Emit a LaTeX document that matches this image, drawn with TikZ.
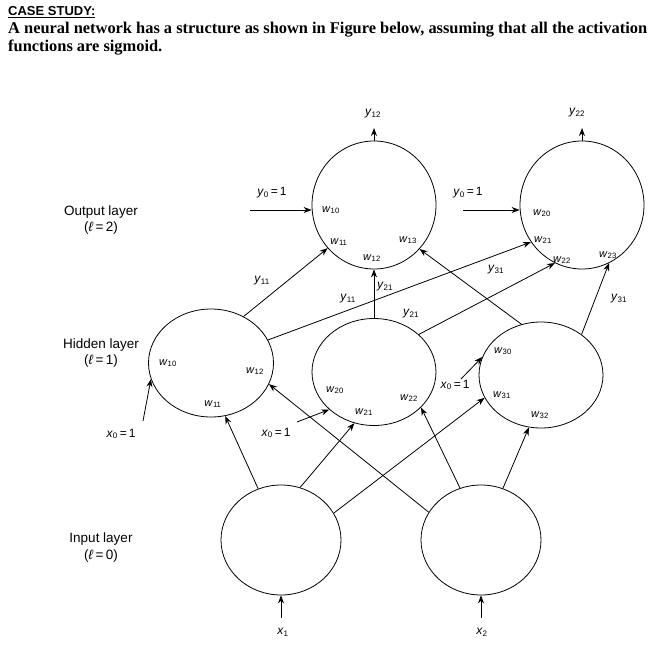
\documentclass[tikz,border=0pt]{standalone}
\usepackage{fontspec}
\setmainfont{Liberation Serif}
\newfontfamily\sansf{Liberation Sans}
\usetikzlibrary{shapes.geometric,arrows.meta}
\newcommand{\vv}[2]{\textit{#1}\textsubscript{#2}}
\begin{document}
\begin{tikzpicture}[x=1pt,y=-1pt,
  neuron/.style={ellipse,draw,line width=0.8pt,inner sep=0pt},
  conn/.style={line width=0.8pt,-{Stealth[length=8pt,width=6pt]}},
  lab/.style={font=\sansf\fontsize{12}{13}\selectfont,inner sep=0pt},
  wl/.style={font=\sansf\fontsize{11}{12}\selectfont,inner sep=0pt},
  layer/.style={font=\sansf\fontsize{13.5}{15}\selectfont,inner sep=0pt}]
\useasboundingbox (0,0) rectangle (665,659);
\node[anchor=west,inner sep=0pt,font=\sansf\bfseries\fontsize{13}{15}\selectfont] (title) at (8,12) {\underline{CASE STUDY:}};
\node[anchor=west,inner sep=0pt,font=\bfseries\fontsize{16.4}{18}\selectfont] (l1) at (8,30) {A neural network has a structure as shown in Figure below, assuming that all the activation};
\node[anchor=west,inner sep=0pt,font=\bfseries\fontsize{16.4}{18}\selectfont] (l2) at (8,48) {functions are sigmoid.};

\node[neuron,minimum width=124pt,minimum height=128pt] (o1) at (374,205) {};
\node[neuron,minimum width=124pt,minimum height=128pt] (o2) at (582,205) {};
\node[neuron,minimum width=125pt,minimum height=108pt] (h1) at (211,363) {};
\node[neuron,minimum width=124pt,minimum height=107pt] (h2) at (374,372) {};
\node[neuron,minimum width=124pt,minimum height=106pt] (h3) at (541,375) {};
\node[neuron,minimum width=120pt,minimum height=110pt] (i1) at (281,540) {};
\node[neuron,minimum width=120pt,minimum height=110pt] (i2) at (481,540) {};

% outputs
\node[lab] (y12) at (373,114) {\vv{y}{12}};
\node[lab] (y22) at (577,113) {\vv{y}{22}};
\coordinate (o1t) at (374,128);
\coordinate (o2t) at (582,128);
\draw[conn] (o1.90) -- (o1t);
\draw[conn] (o2.90) -- (o2t);
% bias y0
\coordinate (b1) at (250,210);
\coordinate (b2) at (463,210);
\draw[conn] (b1) -- (b1 -| o1.west);
\draw[conn] (b2) -- (b2 -| o2.west);
\node[lab] (y0a) at (272,193) {\vv{y}{0}\,=\,1};
\node[lab] (y0b) at (468,193) {\vv{y}{0}\,=\,1};

% hidden -> output
\draw[conn] (h1.55) -- (o1.-137);
\draw[conn] (h1.22) -- (o2.-144);
\draw[conn] (h2.90) -- (o1.-90);
\draw[conn] (h2.40) -- (o2.-115);
\draw[conn] (h3.111) -- (o1.-44);
\draw[conn] (h3.45) -- (o2.-65);
\node[lab] (ya) at (262,281) {\vv{y}{11}};
\node[lab] (yb) at (348,299) {\vv{y}{11}};
\node[lab] (yc) at (385,287) {\vv{y}{21}};
\node[lab] (yd) at (411,314) {\vv{y}{21}};
\node[lab] (ye) at (496,270) {\vv{y}{31}};
\node[lab] (yf) at (619,299) {\vv{y}{31}};

% input -> hidden
\draw[conn] (i1.114) -- (h1.-75);
\draw[conn] (i1.70) -- (h2.-111);
\draw[conn] (i1.27) -- (h3.-158);
\draw[conn] (i2.152) -- (h1.-20);
\draw[conn] (i2.112) -- (h2.-37);
\draw[conn] (i2.67) -- (h3.-103);

% x0 biases
\coordinate (c1) at (143,421);
\coordinate (c2) at (297,422);
\coordinate (c3) at (461,379);
\draw[conn] (c1) -- (h1.-165);
\draw[conn] (c2) -- (h2.-140);
\draw[conn] (c3) -- (h3.163);
\node[lab] (x0a) at (121,434) {\vv{x}{0}\,=\,1};
\node[lab] (x0b) at (276,433) {\vv{x}{0}\,=\,1};
\node[lab] (x0c) at (455,385) {\vv{x}{0}\,=\,1};

% inputs
\coordinate (x1s) at (281,618);
\coordinate (x2s) at (481,618);
\draw[conn] (x1s) -- (i1.-90);
\draw[conn] (x2s) -- (i2.-90);
\node[lab] (x1) at (283,632) {\vv{x}{1}};
\node[lab] (x2) at (482,632) {\vv{x}{2}};

% weights
\node[wl] at (331,210) {\vv{w}{10}};
\node[wl] at (339,242) {\vv{w}{11}};
\node[wl] at (372,258) {\vv{w}{12}};
\node[wl] at (408,240) {\vv{w}{13}};
\node[wl] at (542,213) {\vv{w}{20}};
\node[wl] at (543,240) {\vv{w}{21}};
\node[wl] at (562,260) {\vv{w}{22}};
\node[wl] at (608,255) {\vv{w}{23}};
\node[wl] at (168,363) {\vv{w}{10}};
\node[wl] at (255,371) {\vv{w}{12}};
\node[wl] at (213,404) {\vv{w}{11}};
\node[wl] at (335,390) {\vv{w}{20}};
\node[wl] at (364,412) {\vv{w}{21}};
\node[wl] at (409,398) {\vv{w}{22}};
\node[wl] at (503,351) {\vv{w}{30}};
\node[wl] at (502,395) {\vv{w}{31}};
\node[wl] at (540,415) {\vv{w}{32}};

% layer labels
\node[layer] (ol) at (101,212) {Output layer};
\node[layer] (ol2) at (101,228) {(\textit{ℓ}\,=\,2)};
\node[layer] (hl) at (101,345) {Hidden layer};
\node[layer] (hl2) at (101,361) {(\textit{ℓ}\,=\,1)};
\node[layer] (il) at (101,539) {Input layer};
\node[layer] (il2) at (101,556) {(\textit{ℓ}\,=\,0)};
\end{tikzpicture}
\end{document}
